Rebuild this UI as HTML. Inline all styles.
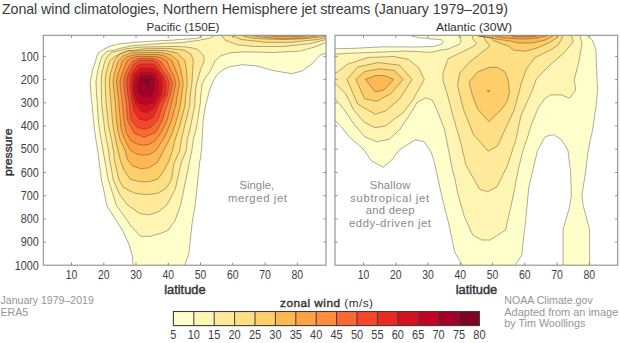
<!DOCTYPE html>
<html><head><meta charset="utf-8"><style>
html,body{margin:0;padding:0;background:#fff;}
svg{display:block;}
text{font-family:"Liberation Sans",sans-serif;}
</style></head><body>
<svg width="620" height="343" viewBox="0 0 620 343">
<defs>
<clipPath id="c1"><rect x="43.3" y="35.3" width="282.7" height="229.9"/></clipPath>
<clipPath id="c2"><rect x="335.0" y="35.3" width="282.7" height="229.9"/></clipPath>
</defs>
<rect width="620" height="343" fill="#fff"/>

<g clip-path="url(#c1)"><path d="M202.1 30.0L332.1 29.9L332.4 30.1L332.2 52.6L326.4 52.7L320.1 55.2L312.1 63.7L302.2 70.9L291.6 73.7L274.1 70.7L255.9 65.9L242.4 64.7L229.9 66.7L222.1 70.2L217.1 74.7L213.2 81.1L210.7 87.1L209.2 91.6L205.2 107.4L203.2 119.4L201.5 150.9L201.2 151.1L200.5 158.1L199.7 161.9L195.2 205.6L192.4 220.9L188.9 253.2L187.7 257.4L184.4 265.6L183.2 272.1L133.1 272.2L132.6 256.9L129.1 244.9L123.3 231.6L107.0 206.1L102.8 185.6L102.5 185.4L102.3 183.1L101.5 180.6L97.8 151.1L97.5 150.9L96.8 144.4L95.5 137.6L94.8 131.1L94.5 130.9L91.8 101.6L91.5 101.4L90.3 83.9L90.0 83.6L90.0 81.6L90.3 81.4L92.5 69.9L95.5 61.6L96.8 56.1L98.8 52.6L103.6 49.2L110.4 46.0L120.1 43.7L132.9 42.5L133.1 42.2L150.1 41.5L150.4 41.2L175.4 40.0L175.6 39.7L183.6 39.5L183.9 39.2L195.6 38.5L201.2 37.1L202.0 30.1Z" fill="#ffffcc"/><path d="M214.1 30.1L332.1 29.9L332.1 42.2L326.4 42.3L315.4 46.8L300.1 51.1L275.6 52.3L275.4 52.6L244.9 51.8L230.4 52.8L221.1 55.7L214.8 61.1L211.0 70.1L205.5 77.6L202.0 84.1L201.3 91.6L201.0 91.9L200.8 96.6L200.5 96.9L200.3 103.4L200.0 103.6L199.8 107.4L199.5 107.6L197.5 121.9L195.3 132.4L193.5 138.6L191.8 150.6L180.8 204.4L175.3 220.1L168.5 229.9L167.1 230.8L159.6 233.8L157.9 234.0L150.4 236.3L140.4 236.2L130.0 224.9L127.3 220.6L116.5 205.6L108.2 179.4L99.5 130.6L98.0 116.4L97.0 98.1L96.7 97.9L96.0 81.4L97.7 70.6L100.7 59.9L102.5 55.6L107.1 51.5L113.9 50.2L119.9 48.4L132.1 45.7L149.1 44.5L149.4 44.2L159.4 43.8L159.6 43.5L183.9 42.5L185.6 42.0L200.4 40.1L200.6 39.8L209.4 38.3L213.9 35.8L214.1 30.1Z" fill="#fff5b3"/><path d="M221.9 30.1L332.1 30.0L332.2 37.9L332.1 39.2L326.1 39.5L309.4 43.8L305.4 44.0L305.1 44.3L300.4 44.5L300.1 44.8L283.1 46.5L254.4 46.5L237.6 44.8L225.4 40.3L221.8 35.9L221.9 30.1ZM167.6 46.5L176.9 46.5L188.1 47.2L188.4 47.5L191.4 47.7L197.6 49.5L199.5 51.1L203.8 55.9L204.2 60.6L200.5 69.9L196.5 83.9L195.3 94.1L195.3 97.4L195.0 97.6L194.8 105.6L189.5 131.4L187.3 139.6L186.2 150.4L181.0 163.4L175.3 188.9L167.0 204.9L158.9 211.3L156.9 212.3L149.1 214.8L141.6 214.0L139.1 213.0L127.5 204.9L120.0 195.1L113.0 179.4L112.8 176.6L112.5 176.4L111.8 170.9L109.5 159.1L108.5 149.6L106.2 139.4L106.0 136.6L105.7 136.4L105.5 133.6L104.7 130.4L103.5 119.1L103.2 118.9L103.0 114.1L102.7 113.9L102.5 109.1L102.2 108.9L101.5 101.4L101.5 91.4L101.2 91.1L101.5 74.6L104.2 63.6L105.7 59.4L107.8 55.6L112.1 52.1L122.9 49.8L127.1 48.5L131.6 48.3L131.9 48.0L142.9 47.0L167.5 46.6Z" fill="#ffea9b"/><path d="M232.6 30.1L332.2 30.1L332.2 35.9L332.1 37.2L326.1 37.8L318.1 39.5L297.4 41.5L297.1 41.8L292.4 42.0L292.1 42.3L263.6 42.3L263.4 42.0L241.1 39.5L232.5 35.9L232.6 30.1ZM157.4 48.5L171.1 48.5L171.4 48.8L183.1 50.0L185.6 51.0L191.0 54.1L193.3 60.4L191.8 84.9L191.5 85.1L190.3 94.4L189.8 105.4L181.5 138.6L179.7 150.4L174.0 163.4L171.5 179.4L171.0 180.6L165.9 188.5L157.6 193.3L145.4 194.8L145.1 194.5L134.9 193.3L123.4 187.5L119.0 180.1L114.5 160.6L113.5 149.6L113.2 149.4L111.5 139.6L109.0 128.6L108.2 122.9L106.0 101.4L105.2 83.6L105.5 76.9L106.5 71.6L109.8 60.6L115.1 56.4L118.1 55.1L119.6 53.9L127.9 50.7L132.2 50.6L143.4 48.8L157.2 48.6Z" fill="#fedf83"/><path d="M243.1 30.1L332.1 30.1L332.1 35.6L323.9 36.4L323.6 36.7L311.9 38.0L311.6 38.3L305.6 38.5L305.4 38.8L298.9 38.8L298.6 39.1L278.9 39.6L278.6 39.3L259.1 38.8L258.9 38.5L253.9 38.3L243.1 36.0L243.1 30.1ZM146.9 50.5L165.6 50.5L177.1 53.0L184.8 60.6L186.5 69.6L187.3 84.9L187.0 85.1L186.8 88.6L186.0 92.4L185.0 105.4L179.3 127.4L175.0 139.9L172.5 150.4L168.5 162.1L162.5 172.9L157.9 179.0L149.4 181.7L139.9 181.7L130.9 179.5L130.0 178.9L124.0 170.1L120.5 161.1L115.5 139.4L112.7 124.1L109.2 81.1L109.5 80.9L110.2 73.9L111.0 72.1L114.0 61.1L119.1 54.4L127.9 50.9L146.8 50.6Z" fill="#fece6a"/><path d="M250.1 30.1L320.1 30.1L320.1 30.4L318.4 35.2L317.4 35.9L300.9 38.2L280.4 38.7L268.4 38.0L268.1 37.7L263.4 37.5L263.1 37.2L252.1 35.9L250.1 30.1ZM146.4 52.5L160.6 52.5L164.4 53.2L170.1 54.5L174.9 58.2L177.4 60.3L178.3 61.6L180.8 69.9L183.3 83.1L183.0 83.4L182.8 87.4L182.5 87.6L181.0 100.9L179.8 107.4L176.5 120.4L173.2 130.1L173.0 131.6L168.8 140.6L157.5 162.4L149.1 167.8L140.9 168.7L133.1 166.2L128.5 161.1L127.5 159.6L125.0 149.9L120.3 140.4L117.7 129.6L117.0 123.4L116.7 123.1L115.0 99.1L114.7 98.9L113.0 81.4L114.2 73.9L118.0 61.4L123.1 55.8L131.9 52.8L146.2 52.6Z" fill="#feb852"/><path d="M262.1 30.1L310.1 30.1L310.2 30.4L308.1 35.7L299.6 36.4L299.4 36.7L278.4 36.7L265.1 35.7L262.1 30.1ZM146.4 54.5L157.6 54.5L164.4 55.8L171.9 60.5L177.8 75.6L179.3 82.1L179.5 84.6L177.5 93.4L177.3 95.9L177.0 96.1L176.0 104.1L173.5 112.6L173.3 114.4L171.5 120.4L166.8 132.1L164.8 136.1L162.8 139.9L155.9 150.5L150.1 154.3L142.6 155.3L136.1 153.8L130.6 150.5L127.5 145.1L124.2 138.1L121.0 128.4L118.5 99.1L116.5 81.4L117.5 74.9L119.5 70.4L122.0 61.4L123.1 60.0L127.1 56.8L132.9 55.2L136.1 54.7L146.2 54.6Z" fill="#fea245"/><path d="M136.9 56.5L155.6 56.5L161.6 58.0L166.9 61.0L171.0 70.9L174.3 77.1L175.8 83.6L171.3 104.4L168.2 115.6L167.5 119.4L161.3 132.1L155.4 140.5L149.1 144.3L144.1 145.0L143.9 145.3L136.9 144.0L130.6 140.5L126.0 132.1L123.7 118.6L122.3 101.6L122.0 101.4L121.8 96.9L121.5 96.6L120.0 83.1L120.2 80.4L121.5 74.9L127.0 61.1L131.6 58.0L136.8 56.6Z" fill="#fd8c3c"/><path d="M138.9 58.5L153.4 58.5L160.6 61.0L170.0 75.6L172.7 83.9L169.8 96.9L164.5 112.6L162.8 118.9L156.5 131.6L154.6 133.0L144.4 137.2L142.6 136.8L134.1 133.2L127.5 120.4L126.0 101.6L125.7 101.4L125.5 97.4L125.2 97.1L123.5 83.1L124.5 75.9L127.2 69.6L130.2 64.6L132.6 61.0L138.7 58.6Z" fill="#fc6832"/><path d="M139.1 60.3L153.1 60.3L157.9 62.8L162.0 69.9L167.0 76.6L169.3 83.9L167.3 95.4L162.5 105.6L158.0 119.6L151.4 127.0L144.4 129.2L137.1 127.2L131.0 120.1L128.8 99.4L127.5 92.1L126.8 85.1L126.5 84.9L127.3 77.1L128.7 73.6L134.0 64.1L139.0 60.4Z" fill="#f84628"/><path d="M140.1 64.0L152.4 64.0L155.9 65.8L159.0 70.6L163.3 76.1L166.2 83.9L165.2 95.1L159.0 104.6L153.5 117.1L146.4 120.7L139.1 119.2L134.0 111.1L131.7 99.1L130.5 88.1L130.2 87.9L130.0 83.9L130.7 76.4L131.2 74.6L136.5 66.6L140.0 64.1Z" fill="#ea2920"/><path d="M140.1 68.0L152.1 68.0L157.5 71.4L161.0 76.6L161.5 77.9L162.5 85.1L161.3 95.1L156.0 105.4L148.1 112.7L141.9 111.5L140.5 110.6L135.5 104.1L133.0 95.4L132.0 85.4L134.0 74.1L140.0 68.1Z" fill="#d7121f"/><path d="M141.1 72.3L151.4 72.2L155.4 74.3L156.3 75.9L159.0 83.9L158.5 93.6L154.2 102.1L153.4 102.7L146.4 104.7L139.9 103.5L138.8 102.9L135.3 96.4L133.6 88.7L134.0 85.4L136.0 77.1L141.0 72.4Z" fill="#c20325"/><path d="M148.9 75.5L150.9 75.7L155.0 78.6L154.0 90.4L151.4 96.7L143.4 97.0L138.1 92.7L137.3 85.9L138.8 81.4L139.9 76.3L148.7 75.6Z" fill="#a20026"/><path d="M149.1 78.5L150.1 78.5L150.2 78.9L147.9 87.3L143.5 79.4L149.0 78.6Z" fill="#800026"/><path d="M202.1 30.0L332.1 29.9L332.4 30.1L332.2 52.6L326.4 52.7L320.1 55.2L312.1 63.7L302.2 70.9L291.6 73.7L274.1 70.7L255.9 65.9L242.4 64.7L229.9 66.7L222.1 70.2L217.1 74.7L213.2 81.1L210.7 87.1L209.2 91.6L205.2 107.4L203.2 119.4L201.5 150.9L201.2 151.1L200.5 158.1L199.7 161.9L195.2 205.6L192.4 220.9L188.9 253.2L187.7 257.4L184.4 265.6L183.2 272.1L133.1 272.2L132.6 256.9L129.1 244.9L123.3 231.6L107.0 206.1L102.8 185.6L102.5 185.4L102.3 183.1L101.5 180.6L97.8 151.1L97.5 150.9L96.8 144.4L95.5 137.6L94.8 131.1L94.5 130.9L91.8 101.6L91.5 101.4L90.3 83.9L90.0 83.6L90.0 81.6L90.3 81.4L92.5 69.9L95.5 61.6L96.8 56.1L98.8 52.6L103.6 49.2L110.4 46.0L120.1 43.7L132.9 42.5L133.1 42.2L150.1 41.5L150.4 41.2L175.4 40.0L175.6 39.7L183.6 39.5L183.9 39.2L195.6 38.5L201.2 37.1L202.0 30.1ZM214.1 30.1L332.1 29.9L332.1 42.2L326.4 42.3L315.4 46.8L300.1 51.1L275.6 52.3L275.4 52.6L244.9 51.8L230.4 52.8L221.1 55.7L214.8 61.1L211.0 70.1L205.5 77.6L202.0 84.1L201.3 91.6L201.0 91.9L200.8 96.6L200.5 96.9L200.3 103.4L200.0 103.6L199.8 107.4L199.5 107.6L197.5 121.9L195.3 132.4L193.5 138.6L191.8 150.6L180.8 204.4L175.3 220.1L168.5 229.9L167.1 230.8L159.6 233.8L157.9 234.0L150.4 236.3L140.4 236.2L130.0 224.9L127.3 220.6L116.5 205.6L108.2 179.4L99.5 130.6L98.0 116.4L97.0 98.1L96.7 97.9L96.0 81.4L97.7 70.6L100.7 59.9L102.5 55.6L107.1 51.5L113.9 50.2L119.9 48.4L132.1 45.7L149.1 44.5L149.4 44.2L159.4 43.8L159.6 43.5L183.9 42.5L185.6 42.0L200.4 40.1L200.6 39.8L209.4 38.3L213.9 35.8L214.1 30.1ZM221.9 30.1L332.1 30.0L332.2 37.9L332.1 39.2L326.1 39.5L309.4 43.8L305.4 44.0L305.1 44.3L300.4 44.5L300.1 44.8L283.1 46.5L254.4 46.5L237.6 44.8L225.4 40.3L221.8 35.9L221.9 30.1ZM167.6 46.5L176.9 46.5L188.1 47.2L188.4 47.5L191.4 47.7L197.6 49.5L199.5 51.1L203.8 55.9L204.2 60.6L200.5 69.9L196.5 83.9L195.3 94.1L195.3 97.4L195.0 97.6L194.8 105.6L189.5 131.4L187.3 139.6L186.2 150.4L181.0 163.4L175.3 188.9L167.0 204.9L158.9 211.3L156.9 212.3L149.1 214.8L141.6 214.0L139.1 213.0L127.5 204.9L120.0 195.1L113.0 179.4L112.8 176.6L112.5 176.4L111.8 170.9L109.5 159.1L108.5 149.6L106.2 139.4L106.0 136.6L105.7 136.4L105.5 133.6L104.7 130.4L103.5 119.1L103.2 118.9L103.0 114.1L102.7 113.9L102.5 109.1L102.2 108.9L101.5 101.4L101.5 91.4L101.2 91.1L101.5 74.6L104.2 63.6L105.7 59.4L107.8 55.6L112.1 52.1L122.9 49.8L127.1 48.5L131.6 48.3L131.9 48.0L142.9 47.0L167.5 46.6ZM232.6 30.1L332.2 30.1L332.2 35.9L332.1 37.2L326.1 37.8L318.1 39.5L297.4 41.5L297.1 41.8L292.4 42.0L292.1 42.3L263.6 42.3L263.4 42.0L241.1 39.5L232.5 35.9L232.6 30.1ZM157.4 48.5L171.1 48.5L171.4 48.8L183.1 50.0L185.6 51.0L191.0 54.1L193.3 60.4L191.8 84.9L191.5 85.1L190.3 94.4L189.8 105.4L181.5 138.6L179.7 150.4L174.0 163.4L171.5 179.4L171.0 180.6L165.9 188.5L157.6 193.3L145.4 194.8L145.1 194.5L134.9 193.3L123.4 187.5L119.0 180.1L114.5 160.6L113.5 149.6L113.2 149.4L111.5 139.6L109.0 128.6L108.2 122.9L106.0 101.4L105.2 83.6L105.5 76.9L106.5 71.6L109.8 60.6L115.1 56.4L118.1 55.1L119.6 53.9L127.9 50.7L132.2 50.6L143.4 48.8L157.2 48.6ZM243.1 30.1L332.1 30.1L332.1 35.6L323.9 36.4L323.6 36.7L311.9 38.0L311.6 38.3L305.6 38.5L305.4 38.8L298.9 38.8L298.6 39.1L278.9 39.6L278.6 39.3L259.1 38.8L258.9 38.5L253.9 38.3L243.1 36.0L243.1 30.1ZM146.9 50.5L165.6 50.5L177.1 53.0L184.8 60.6L186.5 69.6L187.3 84.9L187.0 85.1L186.8 88.6L186.0 92.4L185.0 105.4L179.3 127.4L175.0 139.9L172.5 150.4L168.5 162.1L162.5 172.9L157.9 179.0L149.4 181.7L139.9 181.7L130.9 179.5L130.0 178.9L124.0 170.1L120.5 161.1L115.5 139.4L112.7 124.1L109.2 81.1L109.5 80.9L110.2 73.9L111.0 72.1L114.0 61.1L119.1 54.4L127.9 50.9L146.8 50.6ZM250.1 30.1L320.1 30.1L320.1 30.4L318.4 35.2L317.4 35.9L300.9 38.2L280.4 38.7L268.4 38.0L268.1 37.7L263.4 37.5L263.1 37.2L252.1 35.9L250.1 30.1ZM146.4 52.5L160.6 52.5L164.4 53.2L170.1 54.5L174.9 58.2L177.4 60.3L178.3 61.6L180.8 69.9L183.3 83.1L183.0 83.4L182.8 87.4L182.5 87.6L181.0 100.9L179.8 107.4L176.5 120.4L173.2 130.1L173.0 131.6L168.8 140.6L157.5 162.4L149.1 167.8L140.9 168.7L133.1 166.2L128.5 161.1L127.5 159.6L125.0 149.9L120.3 140.4L117.7 129.6L117.0 123.4L116.7 123.1L115.0 99.1L114.7 98.9L113.0 81.4L114.2 73.9L118.0 61.4L123.1 55.8L131.9 52.8L146.2 52.6ZM262.1 30.1L310.1 30.1L310.2 30.4L308.1 35.7L299.6 36.4L299.4 36.7L278.4 36.7L265.1 35.7L262.1 30.1ZM146.4 54.5L157.6 54.5L164.4 55.8L171.9 60.5L177.8 75.6L179.3 82.1L179.5 84.6L177.5 93.4L177.3 95.9L177.0 96.1L176.0 104.1L173.5 112.6L173.3 114.4L171.5 120.4L166.8 132.1L164.8 136.1L162.8 139.9L155.9 150.5L150.1 154.3L142.6 155.3L136.1 153.8L130.6 150.5L127.5 145.1L124.2 138.1L121.0 128.4L118.5 99.1L116.5 81.4L117.5 74.9L119.5 70.4L122.0 61.4L123.1 60.0L127.1 56.8L132.9 55.2L136.1 54.7L146.2 54.6ZM136.9 56.5L155.6 56.5L161.6 58.0L166.9 61.0L171.0 70.9L174.3 77.1L175.8 83.6L171.3 104.4L168.2 115.6L167.5 119.4L161.3 132.1L155.4 140.5L149.1 144.3L144.1 145.0L143.9 145.3L136.9 144.0L130.6 140.5L126.0 132.1L123.7 118.6L122.3 101.6L122.0 101.4L121.8 96.9L121.5 96.6L120.0 83.1L120.2 80.4L121.5 74.9L127.0 61.1L131.6 58.0L136.8 56.6ZM138.9 58.5L153.4 58.5L160.6 61.0L170.0 75.6L172.7 83.9L169.8 96.9L164.5 112.6L162.8 118.9L156.5 131.6L154.6 133.0L144.4 137.2L142.6 136.8L134.1 133.2L127.5 120.4L126.0 101.6L125.7 101.4L125.5 97.4L125.2 97.1L123.5 83.1L124.5 75.9L127.2 69.6L130.2 64.6L132.6 61.0L138.7 58.6ZM139.1 60.3L153.1 60.3L157.9 62.8L162.0 69.9L167.0 76.6L169.3 83.9L167.3 95.4L162.5 105.6L158.0 119.6L151.4 127.0L144.4 129.2L137.1 127.2L131.0 120.1L128.8 99.4L127.5 92.1L126.8 85.1L126.5 84.9L127.3 77.1L128.7 73.6L134.0 64.1L139.0 60.4ZM140.1 64.0L152.4 64.0L155.9 65.8L159.0 70.6L163.3 76.1L166.2 83.9L165.2 95.1L159.0 104.6L153.5 117.1L146.4 120.7L139.1 119.2L134.0 111.1L131.7 99.1L130.5 88.1L130.2 87.9L130.0 83.9L130.7 76.4L131.2 74.6L136.5 66.6L140.0 64.1ZM140.1 68.0L152.1 68.0L157.5 71.4L161.0 76.6L161.5 77.9L162.5 85.1L161.3 95.1L156.0 105.4L148.1 112.7L141.9 111.5L140.5 110.6L135.5 104.1L133.0 95.4L132.0 85.4L134.0 74.1L140.0 68.1ZM141.1 72.3L151.4 72.2L155.4 74.3L156.3 75.9L159.0 83.9L158.5 93.6L154.2 102.1L153.4 102.7L146.4 104.7L139.9 103.5L138.8 102.9L135.3 96.4L133.6 88.7L134.0 85.4L136.0 77.1L141.0 72.4ZM148.9 75.5L150.9 75.7L155.0 78.6L154.0 90.4L151.4 96.7L143.4 97.0L138.1 92.7L137.3 85.9L138.8 81.4L139.9 76.3L148.7 75.6ZM149.1 78.5L150.1 78.5L150.2 78.9L147.9 87.3L143.5 79.4L149.0 78.6Z" fill="none" stroke="#3a3a3a" stroke-width="0.42" stroke-linejoin="round"/></g><g clip-path="url(#c2)"><path d="M411.6 30.1L587.2 30.1L587.2 35.6L592.5 40.1L595.9 50.3L597.4 87.4L597.7 87.6L597.7 91.1L597.4 91.4L595.7 109.9L595.4 110.1L592.7 129.4L592.4 129.6L592.2 132.1L590.1 140.9L588.4 150.9L588.1 151.1L585.4 173.6L581.9 194.9L583.1 205.4L589.6 229.4L589.6 272.1L563.1 272.1L563.1 229.4L569.4 207.4L571.1 196.6L571.4 196.4L570.6 171.9L568.1 151.4L567.6 149.6L561.1 139.4L554.6 135.4L552.9 134.7L545.1 136.7L537.4 150.9L528.7 188.1L525.2 225.6L524.9 225.9L524.7 230.4L524.4 230.6L521.7 255.4L514.9 265.4L514.2 272.1L462.1 272.2L462.6 265.6L454.8 252.4L448.6 223.1L442.8 200.6L434.6 163.1L431.1 152.1L424.3 141.9L423.4 141.4L421.1 141.2L415.9 139.9L414.4 140.4L399.9 149.4L391.4 160.4L383.1 167.2L371.9 161.2L363.1 148.9L349.8 137.4L342.3 128.1L335.4 120.9L333.4 120.4L328.1 120.2L328.0 48.9L354.4 48.3L383.1 46.8L416.9 47.0L432.9 46.5L441.6 44.3L443.5 41.6L441.1 39.7L429.1 38.7L428.9 38.4L419.6 37.9L412.1 36.2L411.6 30.1Z" fill="#ffffcc"/><path d="M458.1 30.1L558.4 29.9L580.1 30.1L580.2 30.6L580.2 36.1L582.0 44.1L578.8 62.1L574.2 79.9L575.7 90.1L569.6 98.2L561.1 94.8L550.6 95.0L545.1 98.3L538.3 107.6L531.0 125.6L528.3 134.9L523.0 150.6L518.5 168.6L512.5 199.4L505.5 230.1L490.1 240.0L481.4 240.0L472.9 235.0L471.5 232.6L463.5 214.4L462.8 210.9L458.0 194.4L454.8 178.6L452.2 168.9L444.5 129.4L436.2 108.1L432.4 100.3L425.9 97.8L417.3 102.1L410.6 113.4L399.9 129.3L397.9 131.3L389.1 139.3L376.6 141.8L364.6 136.5L353.7 123.9L344.0 109.4L335.5 99.1L333.4 98.2L328.1 97.1L328.1 54.1L337.9 54.1L338.1 53.8L343.4 53.8L343.6 53.5L400.1 51.3L400.4 51.0L416.1 51.5L427.6 52.3L431.9 52.1L438.6 50.5L448.9 48.8L459.4 44.2L460.0 43.6L461.0 40.1L458.1 35.2L458.1 30.1Z" fill="#fff5b3"/><path d="M472.6 30.1L571.4 30.1L571.5 35.9L573.2 41.6L572.5 42.9L563.5 53.4L551.1 64.0L536.5 78.6L532.3 90.4L520.8 116.1L516.0 139.4L507.5 165.4L497.0 186.9L487.6 191.7L480.1 189.5L479.3 188.9L466.0 165.1L460.3 141.1L455.5 124.9L455.3 123.1L453.7 118.6L446.5 91.6L443.0 80.4L443.0 72.9L448.0 58.9L474.1 46.0L476.5 42.9L472.5 38.9L472.6 30.1ZM391.1 56.5L394.9 56.5L395.1 56.8L408.4 59.3L419.0 68.1L424.3 79.6L414.7 96.6L414.0 98.4L402.9 113.0L394.6 118.7L385.6 126.0L375.1 127.7L364.6 122.5L364.0 121.9L353.7 109.9L345.5 93.6L336.1 84.2L328.1 84.1L328.1 74.1L336.1 73.0L347.6 64.2L367.9 57.5L391.0 56.6Z" fill="#ffea9b"/><path d="M478.1 30.0L553.6 30.0L562.6 30.1L562.7 30.4L562.8 35.9L560.8 40.6L558.0 44.9L551.9 49.3L534.6 57.8L526.2 69.4L520.5 85.6L520.3 87.4L514.0 110.4L501.7 136.6L500.5 139.9L497.4 146.0L488.1 151.2L474.3 135.4L473.0 133.4L463.5 109.6L457.5 85.6L459.7 73.1L469.1 62.5L489.7 46.1L484.5 38.9L484.3 36.9L478.9 36.1L477.9 35.6L478.0 30.1ZM378.1 62.5L399.6 65.2L412.0 79.4L400.4 97.8L398.6 99.8L385.6 111.0L375.1 114.2L357.5 103.9L347.0 79.4L357.6 67.0L378.0 62.6Z" fill="#fedf83"/><path d="M478.1 30.1L558.1 30.1L558.2 31.6L557.5 37.4L549.9 42.3L537.6 47.8L525.6 51.3L524.4 51.3L524.1 51.0L513.6 50.1L509.2 46.6L507.6 45.8L493.6 40.6L492.9 40.1L492.9 38.4L478.1 35.7L478.0 30.1ZM489.4 67.3L497.1 67.3L505.0 71.9L508.2 79.9L509.5 92.4L507.0 101.6L503.0 107.4L499.1 112.0L488.9 121.5L478.0 109.6L472.5 95.9L469.0 82.1L477.6 72.0L489.3 67.4ZM379.9 68.8L394.4 70.5L403.2 79.4L390.6 93.8L381.6 98.5L378.9 100.3L376.4 101.3L364.6 98.7L355.8 79.4L364.6 71.5L379.8 68.9Z" fill="#fece6a"/><path d="M478.1 30.1L553.1 30.1L553.2 31.1L552.9 31.4L552.5 36.4L544.9 40.2L532.1 43.0L518.4 43.0L510.4 41.0L497.9 39.3L490.4 37.6L478.9 35.9L478.1 35.6L478.1 30.1ZM379.6 75.5L384.1 75.5L393.8 79.4L383.9 90.0L375.1 91.8L365.5 79.4L374.9 75.7L379.5 75.6ZM487.6 90.4L489.6 90.6L488.4 92.1L487.4 90.6Z" fill="#feb852"/><path d="M492.1 30.1L548.1 30.1L548.2 30.6L547.5 34.9L547.2 35.6L546.4 36.0L542.1 36.7L538.6 37.8L526.6 39.0L522.4 39.0L511.4 38.5L495.6 36.7L492.1 30.1Z" fill="#fea245"/><path d="M505.1 30.1L542.1 30.1L542.1 30.2L537.1 36.2L528.1 36.7L518.9 36.7L512.1 36.5L505.1 30.1Z" fill="#fd8c3c"/><path d="M411.6 30.1L587.2 30.1L587.2 35.6L592.5 40.1L595.9 50.3L597.4 87.4L597.7 87.6L597.7 91.1L597.4 91.4L595.7 109.9L595.4 110.1L592.7 129.4L592.4 129.6L592.2 132.1L590.1 140.9L588.4 150.9L588.1 151.1L585.4 173.6L581.9 194.9L583.1 205.4L589.6 229.4L589.6 272.1L563.1 272.1L563.1 229.4L569.4 207.4L571.1 196.6L571.4 196.4L570.6 171.9L568.1 151.4L567.6 149.6L561.1 139.4L554.6 135.4L552.9 134.7L545.1 136.7L537.4 150.9L528.7 188.1L525.2 225.6L524.9 225.9L524.7 230.4L524.4 230.6L521.7 255.4L514.9 265.4L514.2 272.1L462.1 272.2L462.6 265.6L454.8 252.4L448.6 223.1L442.8 200.6L434.6 163.1L431.1 152.1L424.3 141.9L423.4 141.4L421.1 141.2L415.9 139.9L414.4 140.4L399.9 149.4L391.4 160.4L383.1 167.2L371.9 161.2L363.1 148.9L349.8 137.4L342.3 128.1L335.4 120.9L333.4 120.4L328.1 120.2L328.0 48.9L354.4 48.3L383.1 46.8L416.9 47.0L432.9 46.5L441.6 44.3L443.5 41.6L441.1 39.7L429.1 38.7L428.9 38.4L419.6 37.9L412.1 36.2L411.6 30.1ZM458.1 30.1L558.4 29.9L580.1 30.1L580.2 30.6L580.2 36.1L582.0 44.1L578.8 62.1L574.2 79.9L575.7 90.1L569.6 98.2L561.1 94.8L550.6 95.0L545.1 98.3L538.3 107.6L531.0 125.6L528.3 134.9L523.0 150.6L518.5 168.6L512.5 199.4L505.5 230.1L490.1 240.0L481.4 240.0L472.9 235.0L471.5 232.6L463.5 214.4L462.8 210.9L458.0 194.4L454.8 178.6L452.2 168.9L444.5 129.4L436.2 108.1L432.4 100.3L425.9 97.8L417.3 102.1L410.6 113.4L399.9 129.3L397.9 131.3L389.1 139.3L376.6 141.8L364.6 136.5L353.7 123.9L344.0 109.4L335.5 99.1L333.4 98.2L328.1 97.1L328.1 54.1L337.9 54.1L338.1 53.8L343.4 53.8L343.6 53.5L400.1 51.3L400.4 51.0L416.1 51.5L427.6 52.3L431.9 52.1L438.6 50.5L448.9 48.8L459.4 44.2L460.0 43.6L461.0 40.1L458.1 35.2L458.1 30.1ZM472.6 30.1L571.4 30.1L571.5 35.9L573.2 41.6L572.5 42.9L563.5 53.4L551.1 64.0L536.5 78.6L532.3 90.4L520.8 116.1L516.0 139.4L507.5 165.4L497.0 186.9L487.6 191.7L480.1 189.5L479.3 188.9L466.0 165.1L460.3 141.1L455.5 124.9L455.3 123.1L453.7 118.6L446.5 91.6L443.0 80.4L443.0 72.9L448.0 58.9L474.1 46.0L476.5 42.9L472.5 38.9L472.6 30.1ZM391.1 56.5L394.9 56.5L395.1 56.8L408.4 59.3L419.0 68.1L424.3 79.6L414.7 96.6L414.0 98.4L402.9 113.0L394.6 118.7L385.6 126.0L375.1 127.7L364.6 122.5L364.0 121.9L353.7 109.9L345.5 93.6L336.1 84.2L328.1 84.1L328.1 74.1L336.1 73.0L347.6 64.2L367.9 57.5L391.0 56.6ZM478.1 30.0L553.6 30.0L562.6 30.1L562.7 30.4L562.8 35.9L560.8 40.6L558.0 44.9L551.9 49.3L534.6 57.8L526.2 69.4L520.5 85.6L520.3 87.4L514.0 110.4L501.7 136.6L500.5 139.9L497.4 146.0L488.1 151.2L474.3 135.4L473.0 133.4L463.5 109.6L457.5 85.6L459.7 73.1L469.1 62.5L489.7 46.1L484.5 38.9L484.3 36.9L478.9 36.1L477.9 35.6L478.0 30.1ZM378.1 62.5L399.6 65.2L412.0 79.4L400.4 97.8L398.6 99.8L385.6 111.0L375.1 114.2L357.5 103.9L347.0 79.4L357.6 67.0L378.0 62.6ZM478.1 30.1L558.1 30.1L558.2 31.6L557.5 37.4L549.9 42.3L537.6 47.8L525.6 51.3L524.4 51.3L524.1 51.0L513.6 50.1L509.2 46.6L507.6 45.8L493.6 40.6L492.9 40.1L492.9 38.4L478.1 35.7L478.0 30.1ZM489.4 67.3L497.1 67.3L505.0 71.9L508.2 79.9L509.5 92.4L507.0 101.6L503.0 107.4L499.1 112.0L488.9 121.5L478.0 109.6L472.5 95.9L469.0 82.1L477.6 72.0L489.3 67.4ZM379.9 68.8L394.4 70.5L403.2 79.4L390.6 93.8L381.6 98.5L378.9 100.3L376.4 101.3L364.6 98.7L355.8 79.4L364.6 71.5L379.8 68.9ZM478.1 30.1L553.1 30.1L553.2 31.1L552.9 31.4L552.5 36.4L544.9 40.2L532.1 43.0L518.4 43.0L510.4 41.0L497.9 39.3L490.4 37.6L478.9 35.9L478.1 35.6L478.1 30.1ZM379.6 75.5L384.1 75.5L393.8 79.4L383.9 90.0L375.1 91.8L365.5 79.4L374.9 75.7L379.5 75.6ZM487.6 90.4L489.6 90.6L488.4 92.1L487.4 90.6ZM492.1 30.1L548.1 30.1L548.2 30.6L547.5 34.9L547.2 35.6L546.4 36.0L542.1 36.7L538.6 37.8L526.6 39.0L522.4 39.0L511.4 38.5L495.6 36.7L492.1 30.1ZM505.1 30.1L542.1 30.1L542.1 30.2L537.1 36.2L528.1 36.7L518.9 36.7L512.1 36.5L505.1 30.1Z" fill="none" stroke="#3a3a3a" stroke-width="0.42" stroke-linejoin="round"/></g>
<g fill="#404040" font-size="12">
<rect x="43.3" y="35.3" width="282.7" height="229.9" fill="none" stroke="#8f8f8f" stroke-width="1.1"/><path d="M71.5 265.2V262.6M71.5 35.3V37.9M103.8 265.2V262.6M103.8 35.3V37.9M136.0 265.2V262.6M136.0 35.3V37.9M168.3 265.2V262.6M168.3 35.3V37.9M200.5 265.2V262.6M200.5 35.3V37.9M232.8 265.2V262.6M232.8 35.3V37.9M265.1 265.2V262.6M265.1 35.3V37.9M297.3 265.2V262.6M297.3 35.3V37.9M43.3 56.4H45.9M326.0 56.4H323.4M43.3 79.6H45.9M326.0 79.6H323.4M43.3 102.8H45.9M326.0 102.8H323.4M43.3 126.0H45.9M326.0 126.0H323.4M43.3 149.2H45.9M326.0 149.2H323.4M43.3 172.5H45.9M326.0 172.5H323.4M43.3 195.7H45.9M326.0 195.7H323.4M43.3 218.9H45.9M326.0 218.9H323.4M43.3 242.1H45.9M326.0 242.1H323.4" stroke="#8f8f8f" stroke-width="1"/><text x="71.5" y="278.6" text-anchor="middle" textLength="11.6" lengthAdjust="spacingAndGlyphs">10</text><text x="103.8" y="278.6" text-anchor="middle" textLength="11.6" lengthAdjust="spacingAndGlyphs">20</text><text x="136.0" y="278.6" text-anchor="middle" textLength="11.6" lengthAdjust="spacingAndGlyphs">30</text><text x="168.3" y="278.6" text-anchor="middle" textLength="11.6" lengthAdjust="spacingAndGlyphs">40</text><text x="200.5" y="278.6" text-anchor="middle" textLength="11.6" lengthAdjust="spacingAndGlyphs">50</text><text x="232.8" y="278.6" text-anchor="middle" textLength="11.6" lengthAdjust="spacingAndGlyphs">60</text><text x="265.1" y="278.6" text-anchor="middle" textLength="11.6" lengthAdjust="spacingAndGlyphs">70</text><text x="297.3" y="278.6" text-anchor="middle" textLength="11.6" lengthAdjust="spacingAndGlyphs">80</text><text x="38.8" y="60.6" text-anchor="end" textLength="18.0" lengthAdjust="spacingAndGlyphs">100</text><text x="38.8" y="83.8" text-anchor="end" textLength="18.0" lengthAdjust="spacingAndGlyphs">200</text><text x="38.8" y="107.0" text-anchor="end" textLength="18.0" lengthAdjust="spacingAndGlyphs">300</text><text x="38.8" y="130.2" text-anchor="end" textLength="18.0" lengthAdjust="spacingAndGlyphs">400</text><text x="38.8" y="153.4" text-anchor="end" textLength="18.0" lengthAdjust="spacingAndGlyphs">500</text><text x="38.8" y="176.7" text-anchor="end" textLength="18.0" lengthAdjust="spacingAndGlyphs">600</text><text x="38.8" y="199.9" text-anchor="end" textLength="18.0" lengthAdjust="spacingAndGlyphs">700</text><text x="38.8" y="223.1" text-anchor="end" textLength="18.0" lengthAdjust="spacingAndGlyphs">800</text><text x="38.8" y="246.3" text-anchor="end" textLength="18.0" lengthAdjust="spacingAndGlyphs">900</text><text x="38.8" y="269.5" text-anchor="end" textLength="24.0" lengthAdjust="spacingAndGlyphs">1000</text>
<rect x="335.0" y="35.3" width="282.7" height="229.9" fill="none" stroke="#8f8f8f" stroke-width="1.1"/><path d="M363.5 265.2V262.6M363.5 35.3V37.9M395.8 265.2V262.6M395.8 35.3V37.9M428.0 265.2V262.6M428.0 35.3V37.9M460.3 265.2V262.6M460.3 35.3V37.9M492.5 265.2V262.6M492.5 35.3V37.9M524.8 265.2V262.6M524.8 35.3V37.9M557.1 265.2V262.6M557.1 35.3V37.9M589.3 265.2V262.6M589.3 35.3V37.9M335.0 56.4H337.6M617.7 56.4H615.1M335.0 79.6H337.6M617.7 79.6H615.1M335.0 102.8H337.6M617.7 102.8H615.1M335.0 126.0H337.6M617.7 126.0H615.1M335.0 149.2H337.6M617.7 149.2H615.1M335.0 172.5H337.6M617.7 172.5H615.1M335.0 195.7H337.6M617.7 195.7H615.1M335.0 218.9H337.6M617.7 218.9H615.1M335.0 242.1H337.6M617.7 242.1H615.1" stroke="#8f8f8f" stroke-width="1"/><text x="363.5" y="278.6" text-anchor="middle" textLength="11.6" lengthAdjust="spacingAndGlyphs">10</text><text x="395.8" y="278.6" text-anchor="middle" textLength="11.6" lengthAdjust="spacingAndGlyphs">20</text><text x="428.0" y="278.6" text-anchor="middle" textLength="11.6" lengthAdjust="spacingAndGlyphs">30</text><text x="460.3" y="278.6" text-anchor="middle" textLength="11.6" lengthAdjust="spacingAndGlyphs">40</text><text x="492.5" y="278.6" text-anchor="middle" textLength="11.6" lengthAdjust="spacingAndGlyphs">50</text><text x="524.8" y="278.6" text-anchor="middle" textLength="11.6" lengthAdjust="spacingAndGlyphs">60</text><text x="557.1" y="278.6" text-anchor="middle" textLength="11.6" lengthAdjust="spacingAndGlyphs">70</text><text x="589.3" y="278.6" text-anchor="middle" textLength="11.6" lengthAdjust="spacingAndGlyphs">80</text>
</g>
<text x="2" y="14.4" font-size="14.2" fill="#3a3a3a" textLength="506" lengthAdjust="spacing">Zonal wind climatologies, Northern Hemisphere jet streams (January 1979–2019)</text>
<text x="183" y="30.5" font-size="11.3" fill="#303030" text-anchor="middle" textLength="73" lengthAdjust="spacingAndGlyphs">Pacific (150E)</text>
<text x="474" y="30.5" font-size="11.3" fill="#303030" text-anchor="middle" textLength="76" lengthAdjust="spacingAndGlyphs">Atlantic (30W)</text>
<text x="184.9" y="294.2" font-size="12" fill="#333" stroke="#333" stroke-width="0.4" text-anchor="middle" textLength="41.5" lengthAdjust="spacingAndGlyphs">latitude</text>
<text x="476.5" y="294.2" font-size="12" fill="#333" stroke="#333" stroke-width="0.4" text-anchor="middle" textLength="41.5" lengthAdjust="spacingAndGlyphs">latitude</text>
<text transform="translate(11.8 152.3) rotate(-90)" font-size="11.6" fill="#333" stroke="#333" stroke-width="0.4" text-anchor="middle" textLength="47.5" lengthAdjust="spacingAndGlyphs">pressure</text>
<g fill="#8a8a8a" font-size="11.3" text-anchor="middle">
<text x="256.8" y="188.7" textLength="34.8" lengthAdjust="spacing">Single,</text>
<text x="257.5" y="201.6" textLength="59" lengthAdjust="spacing">merged jet</text>
<text x="390" y="189" textLength="40.6" lengthAdjust="spacing">Shallow</text>
<text x="389.7" y="201.6" textLength="78.8" lengthAdjust="spacing">subtropical jet</text>
<text x="390.2" y="214.2" textLength="48.8" lengthAdjust="spacing">and deep</text>
<text x="390" y="227.1" textLength="82" lengthAdjust="spacing">eddy-driven jet</text>
</g>
<g fill="#959595" font-size="10.6">
<text x="0.5" y="304.4" textLength="93.3" lengthAdjust="spacingAndGlyphs">January 1979–2019</text>
<text x="0.5" y="315.8">ERA5</text>
<text x="504.3" y="303.8" textLength="88.4" lengthAdjust="spacingAndGlyphs">NOAA Climate.gov</text>
<text x="504.3" y="315.6" textLength="114" lengthAdjust="spacingAndGlyphs">Adapted from an image</text>
<text x="504.3" y="327.2" textLength="81" lengthAdjust="spacingAndGlyphs">by Tim Woollings</text>
</g>
<rect x="173.40" y="311.5" width="20.40" height="14.1" fill="#ffffcc"/><rect x="193.80" y="311.5" width="20.40" height="14.1" fill="#fff5b3"/><rect x="214.20" y="311.5" width="20.40" height="14.1" fill="#ffea9b"/><rect x="234.60" y="311.5" width="20.40" height="14.1" fill="#fedf83"/><rect x="255.00" y="311.5" width="20.40" height="14.1" fill="#fece6a"/><rect x="275.40" y="311.5" width="20.40" height="14.1" fill="#feb852"/><rect x="295.80" y="311.5" width="20.40" height="14.1" fill="#fea245"/><rect x="316.20" y="311.5" width="20.40" height="14.1" fill="#fd8c3c"/><rect x="336.60" y="311.5" width="20.40" height="14.1" fill="#fc6832"/><rect x="357.00" y="311.5" width="20.40" height="14.1" fill="#f84628"/><rect x="377.40" y="311.5" width="20.40" height="14.1" fill="#ea2920"/><rect x="397.80" y="311.5" width="20.40" height="14.1" fill="#d7121f"/><rect x="418.20" y="311.5" width="20.40" height="14.1" fill="#c20325"/><rect x="438.60" y="311.5" width="20.40" height="14.1" fill="#a20026"/><rect x="459.00" y="311.5" width="20.40" height="14.1" fill="#800026"/>
<path d="M193.80 311.5V325.6M214.20 311.5V325.6M234.60 311.5V325.6M255.00 311.5V325.6M275.40 311.5V325.6M295.80 311.5V325.6M316.20 311.5V325.6M336.60 311.5V325.6M357.00 311.5V325.6M377.40 311.5V325.6M397.80 311.5V325.6M418.20 311.5V325.6M438.60 311.5V325.6M459.00 311.5V325.6" stroke="#3c3c3c" stroke-width="1"/>
<rect x="173.4" y="311.5" width="306.0" height="14.1" fill="none" stroke="#3c3c3c" stroke-width="1.1"/>
<g fill="#404040" font-size="12.2" text-anchor="middle">
<text x="173.40" y="338.8" textLength="6.1" lengthAdjust="spacingAndGlyphs">5</text>
<text x="193.80" y="338.8" textLength="12.2" lengthAdjust="spacingAndGlyphs">10</text>
<text x="214.20" y="338.8" textLength="12.2" lengthAdjust="spacingAndGlyphs">15</text>
<text x="234.60" y="338.8" textLength="12.2" lengthAdjust="spacingAndGlyphs">20</text>
<text x="255.00" y="338.8" textLength="12.2" lengthAdjust="spacingAndGlyphs">25</text>
<text x="275.40" y="338.8" textLength="12.2" lengthAdjust="spacingAndGlyphs">30</text>
<text x="295.80" y="338.8" textLength="12.2" lengthAdjust="spacingAndGlyphs">35</text>
<text x="316.20" y="338.8" textLength="12.2" lengthAdjust="spacingAndGlyphs">40</text>
<text x="336.60" y="338.8" textLength="12.2" lengthAdjust="spacingAndGlyphs">45</text>
<text x="357.00" y="338.8" textLength="12.2" lengthAdjust="spacingAndGlyphs">50</text>
<text x="377.40" y="338.8" textLength="12.2" lengthAdjust="spacingAndGlyphs">55</text>
<text x="397.80" y="338.8" textLength="12.2" lengthAdjust="spacingAndGlyphs">60</text>
<text x="418.20" y="338.8" textLength="12.2" lengthAdjust="spacingAndGlyphs">65</text>
<text x="438.60" y="338.8" textLength="12.2" lengthAdjust="spacingAndGlyphs">70</text>
<text x="459.00" y="338.8" textLength="12.2" lengthAdjust="spacingAndGlyphs">75</text>
<text x="479.40" y="338.8" textLength="12.2" lengthAdjust="spacingAndGlyphs">80</text>
</g>
<text x="326.5" y="306.7" font-size="11.8" fill="#333" text-anchor="middle" textLength="93" lengthAdjust="spacing"><tspan stroke="#333" stroke-width="0.4">zonal wind</tspan> (m/s)</text>
</svg></body></html>
